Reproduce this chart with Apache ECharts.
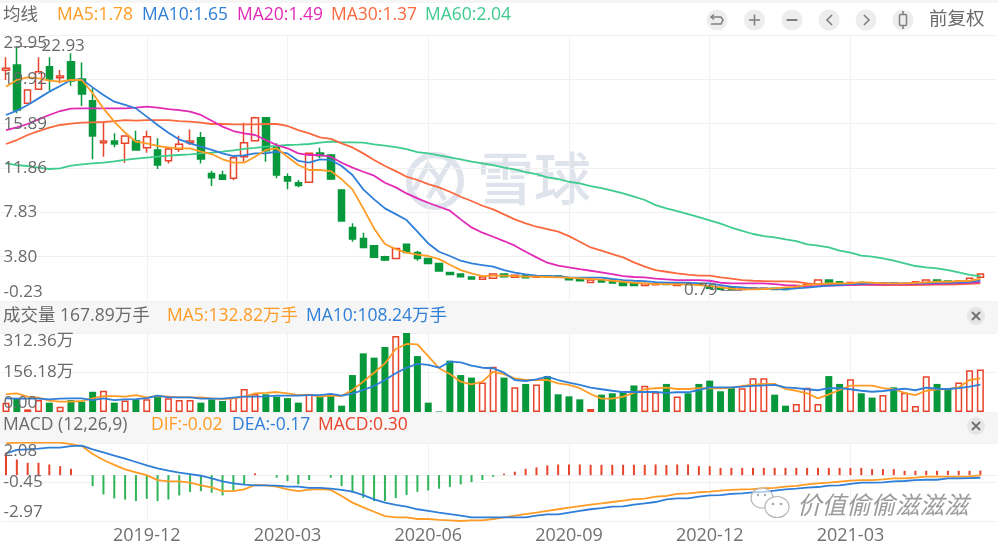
<!DOCTYPE html>
<html><head><meta charset="utf-8">
<script src="https://cdn.jsdelivr.net/npm/echarts@6/dist/echarts.min.js"></script>
<style>html,body{margin:0;padding:0;background:#fff}#c{width:1000px;height:548px}</style></head>
<body><div id="c"></div>
<script>
const tickMonths = ['2019-12','2020-03','2020-06','2020-09','2020-12','2021-03'];
const tickStep = 13;
const priceTicks = [-0.23,3.80,7.83,11.86,15.89,19.92,23.95];
const volTicks = [0,156.18,312.36];
const macdTicks = [-2.97,-0.45,2.08];

const opens = [
20.74,21.22,17.74,19.01,21.07,20.07,21.52,19.95,17.98,14.16,
14.31,14.10,14.31,13.71,13.50,12.52,13.56,14.16,14.62,11.37,
11.22,10.92,12.89,14.34,16.43,13.80,11.07,10.52,10.56,13.22,
13.04,9.86,6.46,5.46,4.80,3.80,3.64,4.92,4.19,3.64,
3.19,2.37,2.22,1.95,1.74,1.83,2.22,1.92,2.07,1.92,
2.07,2.04,1.89,1.83,1.46,1.71,1.67,1.43,1.43,1.19,
1.25,1.36,1.19,1.37,1.37,1.13,1.01,0.98,0.82,0.83,
0.83,0.93,0.92,1.01,1.07,1.31,1.67,1.52,1.37,1.46,
1.37,1.31,1.40,1.31,1.37,1.46,1.67,1.58,1.37,1.61,
1.92];
const closes = [
20.92,17.13,18.95,20.62,19.95,20.22,19.77,18.59,14.77,14.31,
14.04,14.77,13.50,14.71,12.13,13.59,14.01,14.31,12.68,10.98,
10.83,12.80,14.16,16.43,13.43,11.22,10.68,10.28,13.19,12.98,
10.86,7.04,5.40,4.64,3.74,3.49,4.55,4.19,3.64,3.19,
2.49,2.19,1.98,1.77,1.95,2.22,1.98,2.10,1.89,2.07,
1.92,1.92,1.71,1.61,1.67,1.49,1.40,1.19,1.19,1.37,
1.33,1.28,1.37,1.28,1.22,0.92,0.83,0.81,0.98,0.95,
0.92,0.82,0.82,1.19,1.28,1.67,1.37,1.37,1.46,1.31,
1.31,1.40,1.31,1.37,1.52,1.67,1.46,1.43,1.58,1.83,
2.22];
const lows = [
19.86,16.83,17.70,18.95,18.89,19.56,19.34,17.49,12.65,12.89,
13.74,12.34,13.50,13.25,11.77,12.28,13.31,13.95,12.28,10.22,
10.77,10.77,12.43,14.34,12.43,10.92,9.92,10.10,10.53,12.74,
10.77,7.04,5.16,4.64,3.74,3.40,3.60,4.13,3.43,3.15,
2.46,2.15,1.93,1.72,1.70,1.80,1.92,1.88,1.85,1.88,
1.88,1.88,1.68,1.58,1.43,1.46,1.37,1.16,1.16,1.16,
1.22,1.25,1.16,1.25,1.19,0.89,0.80,0.80,0.79,0.80,
0.80,0.80,0.80,0.98,1.04,1.28,1.34,1.34,1.34,1.28,
1.28,1.28,1.28,1.28,1.34,1.43,1.43,1.40,1.34,1.58,
1.89];
const highs = [
21.92,22.93,19.00,21.92,21.92,20.77,22.28,21.46,19.10,15.98,
15.01,14.77,15.25,15.25,14.56,13.80,14.80,15.37,15.13,11.62,
11.62,12.89,15.98,16.52,16.43,14.10,11.37,10.77,13.25,13.71,
13.13,9.86,6.83,5.98,4.86,3.88,4.60,5.00,4.34,3.70,
3.22,2.40,2.28,2.00,1.98,2.25,2.27,2.14,2.10,2.12,
2.10,2.06,1.93,1.86,1.70,1.74,1.70,1.46,1.46,1.40,
1.36,1.40,1.40,1.40,1.40,1.16,1.04,1.01,1.01,0.98,
0.95,0.96,0.95,1.22,1.31,1.70,1.70,1.55,1.49,1.49,
1.40,1.43,1.43,1.40,1.55,1.70,1.70,1.61,1.61,1.86,
2.28];
const ma5 = [
19.25,19.86,20.10,20.01,19.80,19.71,19.86,19.86,18.65,17.28,
16.07,15.07,14.25,14.10,13.86,13.74,13.65,13.65,13.34,13.13,
12.65,12.34,12.34,12.89,13.50,13.65,12.89,12.13,11.68,11.68,
11.58,10.83,9.92,8.19,6.37,4.95,4.49,4.16,3.98,3.86,
3.58,3.07,2.58,2.28,2.04,2.07,2.07,2.04,1.98,1.98,
1.95,1.92,1.89,1.83,1.77,1.71,1.61,1.52,1.43,1.37,
1.31,1.31,1.28,1.28,1.22,1.13,1.01,0.89,0.83,0.83,
0.86,0.92,1.01,1.07,1.22,1.31,1.37,1.37,1.37,1.49,
1.43,1.37,1.37,1.37,1.43,1.46,1.52,1.52,1.58,1.61,
1.78];
const ma10 = [
16.68,17.07,17.59,18.19,18.80,19.31,19.86,19.92,19.19,18.49,
17.89,17.59,17.28,16.53,15.77,15.07,14.46,14.10,13.80,13.50,
13.19,12.95,13.01,13.19,13.19,13.34,13.19,12.50,12.34,12.65,
12.59,12.04,11.22,9.92,9.01,8.19,7.67,7.13,6.07,5.00,
4.25,3.86,3.43,3.19,3.04,2.89,2.58,2.34,2.19,2.07,
2.04,2.04,1.92,1.89,1.89,1.89,1.77,1.67,1.61,1.58,
1.49,1.43,1.43,1.43,1.37,1.37,1.22,1.07,1.01,0.92,
0.92,0.86,0.83,0.92,0.98,1.07,1.16,1.22,1.31,1.34,
1.37,1.37,1.37,1.37,1.37,1.40,1.43,1.43,1.46,1.49,
1.65];
const ma20 = [
15.31,15.56,15.86,16.28,16.68,17.04,17.25,17.28,17.28,17.28,
17.28,17.28,17.34,17.43,17.34,17.22,17.13,16.98,16.68,16.16,
15.62,15.22,15.01,14.86,14.40,13.95,13.65,13.19,13.04,13.04,
12.89,12.34,11.89,11.52,11.16,10.52,10.10,9.55,9.10,8.70,
8.34,7.98,7.19,6.46,5.98,5.61,5.22,4.80,4.25,3.74,
3.25,2.98,2.83,2.67,2.52,2.37,2.22,2.04,1.95,1.92,
1.80,1.74,1.67,1.67,1.67,1.61,1.43,1.37,1.37,1.37,
1.37,1.31,1.22,1.16,1.13,1.13,1.16,1.19,1.22,1.25,
1.26,1.27,1.28,1.28,1.30,1.32,1.34,1.36,1.39,1.43,
1.49];
const ma30 = [
14.04,14.40,14.86,15.22,15.53,15.77,15.89,15.98,16.01,16.04,
16.13,16.22,16.16,16.22,16.22,16.22,16.13,16.07,15.98,15.86,
15.86,15.83,15.83,15.83,15.86,15.86,15.68,15.31,15.01,14.65,
14.50,14.10,13.73,13.19,12.58,12.04,11.58,11.07,10.77,10.40,
10.10,9.70,9.25,8.86,8.43,8.10,7.64,7.19,6.83,6.52,
6.31,6.07,5.67,5.16,4.64,4.34,4.04,3.74,3.28,2.89,
2.58,2.43,2.28,2.16,2.07,2.07,1.92,1.80,1.67,1.61,
1.58,1.55,1.55,1.52,1.37,1.28,1.25,1.24,1.24,1.23,
1.23,1.22,1.22,1.22,1.22,1.23,1.25,1.27,1.29,1.33,
1.37];
const ma60 = [
12.28,12.13,12.04,11.89,11.77,11.83,12.07,12.19,12.28,12.34,
12.46,12.59,12.71,12.80,12.89,12.98,13.04,13.10,13.19,13.25,
13.34,13.46,13.59,13.68,13.80,13.86,13.95,13.98,14.04,14.16,
14.25,14.19,14.19,14.16,14.01,13.89,13.76,13.58,13.31,13.19,
13.01,12.83,12.64,12.43,12.28,12.13,11.89,11.73,11.49,11.31,
11.01,10.86,10.61,10.46,10.22,10.04,9.80,9.55,9.25,8.95,
8.49,8.19,7.93,7.67,7.40,7.10,6.80,6.45,6.15,5.86,
5.67,5.55,5.37,5.22,4.92,4.80,4.64,4.34,4.16,3.89,
3.80,3.65,3.43,3.19,2.95,2.83,2.74,2.58,2.37,2.14,
2.04];
const volumes = [
37,54,10.5,47,37,21,47,41,80,84,
37,45,49,50,67,54,47,47,37,50,
43.5,59,91,71,70,61,55,37,71,61,
65,25,146,232,215,257,300.5,312.36,221,37,
2,203,146,136,117,179,136,97.5,111,109,
142,70,62,50,12,68.5,74,79,105,104,
78,111,61,74,111,124,82,97.5,93.6,133,
133,68.5,25,32,96,32,142,111,129,74,
57,67,97.5,76,24,141,111,94,117,165,
167.89];
const volMa5 = [
71,74,61,57,45,41,41,43.5,54,63,
63,61,67,58,63,61,58,58,58,54,
51,54,61,74,76,79,74,67,68.5,61,
65,63,87,120,155,192,249,269,267.5,221,
173,150,120,109,120,159,150,133,126.5,126.5,
126.5,113,107,94,71,53,53,61,76,90,
94,96,91,91,94,94,94,95,103,108,
111,111,91,84,74,54,70,87,104,104,
104,94,90,76,67,84,90,90,97.5,126.5,
132.82];
const volMa10 = [
54,53,53,53,50,53,54,54,47,54,
47,50,51,55,65,58,58,58,53,53,
53,57,61,61,62,65,65,65,67,67,
72,65,72.5,87,103,126.5,153,175,190,186,
175,199,196,183,175,173,155.5,126.5,122.6,129,
140,126.5,116,107,96,90,84,79,79,79,
79,76,78,78,87,97.5,97.5,97.5,100,103,
105,107,97.5,94,90,86,94,94,90,84,
80,83,88,92,86,96,92,91,94,100,
108.24];
const dif = [
2.06,2.10,2.10,2.10,2.10,2.10,2.01,1.88,1.37,0.98,
0.66,0.37,0.18,0.00,-0.32,-0.40,-0.40,-0.49,-0.66,-0.79,
-1.03,-1.03,-0.92,-0.64,-0.66,-0.75,-0.92,-1.03,-0.94,-0.90,
-0.96,-1.35,-1.78,-2.09,-2.37,-2.65,-2.73,-2.73,-2.84,-2.84,
-2.90,-2.93,-2.97,-2.93,-2.93,-2.84,-2.73,-2.62,-2.52,-2.43,
-2.32,-2.21,-2.11,-2.00,-1.91,-1.83,-1.74,-1.65,-1.55,-1.52,
-1.39,-1.35,-1.22,-1.18,-1.11,-1.07,-1.01,-0.96,-0.92,-0.90,
-0.85,-0.83,-0.75,-0.70,-0.60,-0.53,-0.49,-0.42,-0.36,-0.32,
-0.32,-0.27,-0.21,-0.21,-0.16,-0.10,-0.10,-0.10,-0.10,-0.08,
-0.02];
const dea = [
1.41,1.63,1.67,1.71,1.78,1.78,1.88,1.91,1.67,1.48,
1.26,1.07,0.85,0.63,0.44,0.29,0.16,0.07,-0.04,-0.21,
-0.40,-0.53,-0.62,-0.66,-0.66,-0.68,-0.75,-0.75,-0.83,-0.83,
-0.88,-0.96,-1.07,-1.29,-1.57,-1.78,-1.93,-2.04,-2.21,-2.32,
-2.43,-2.52,-2.62,-2.73,-2.73,-2.73,-2.73,-2.73,-2.73,-2.62,
-2.54,-2.54,-2.43,-2.32,-2.21,-2.13,-2.04,-2.02,-1.91,-1.83,
-1.74,-1.57,-1.50,-1.50,-1.39,-1.31,-1.29,-1.22,-1.18,-1.11,
-1.09,-1.01,-0.92,-0.88,-0.81,-0.77,-0.68,-0.66,-0.57,-0.49,
-0.49,-0.47,-0.40,-0.38,-0.32,-0.30,-0.30,-0.21,-0.21,-0.19,
-0.17];
const macd = [
1.45,1.01,0.80,0.80,0.69,0.58,0.41,0,-0.71,-1.25,
-1.51,-1.58,-1.68,-1.53,-1.68,-1.58,-1.32,-1.10,-1.04,-1.14,
-1.32,-0.97,-0.60,0.11,0,-0.17,-0.39,-0.60,-0.32,0,
-0.17,-0.71,-1.14,-1.47,-1.68,-1.68,-1.49,-1.29,-1.08,-0.99,
-0.88,-0.76,-0.60,-0.45,-0.32,-0.11,0.09,0.22,0.41,0.50,
0.63,0.69,0.69,0.69,0.67,0.67,0.67,0.67,0.67,0.67,
0.69,0.65,0.69,0.69,0.58,0.58,0.47,0.47,0.47,0.47,
0.47,0.47,0.47,0.47,0.47,0.47,0.47,0.47,0.47,0.47,
0.39,0.39,0.39,0.28,0.28,0.28,0.28,0.28,0.28,0.28,
0.30];

const RED='#e8432b', GREEN='#07983c', C5='#ff9c26', C10='#2f7fd9', C20='#e22ab6', C30='#fb693f', C60='#3ecb8e', TXT='#6a6a6a';
const FONT='"Open Sans","Noto Sans CJK SC",sans-serif';
const N=opens.length+1;
const categories=Array.from({length:N},(_,i)=> (i%tickStep===0&&tickMonths[i/tickStep-1])||String(i));
const showTick=i=>i>0&&i%tickStep===0&&i/tickStep<=tickMonths.length;
const candle=opens.map((o,i)=>[o,closes[i],lows[i],highs[i]]);
const lineS=(name,data,color,x,w)=>({name,type:'line',data,xAxisIndex:x,yAxisIndex:x,symbol:'none',lineStyle:{color,width:w||1.8},itemStyle:{color},silent:true,animation:false,z:4});
const volData=volumes.map((v,i)=>{const up=closes[i]>=opens[i];return {value:v,itemStyle:up?{color:'#fff',borderColor:RED,borderWidth:1.5}:{color:GREEN,borderColor:GREEN,borderWidth:0}}});
const macdData=macd.map(v=>({value:v,itemStyle:{color:v>=0?RED:'#2fb457'}}));
const LINE='#f1f1f1';
const xA=(g,label)=>({type:'category',gridIndex:g,data:categories,boundaryGap:true,
  axisLine:{show:g===2,lineStyle:{color:'#f1f1f1'}},axisTick:{show:false},
  axisLabel:{show:label,interval:(i)=>showTick(i),color:'#707070',fontFamily:FONT,fontSize:18,margin:6,hideOverlap:false},
  splitLine:{show:true,interval:(i)=>showTick(i),alignWithLabel:true,lineStyle:{color:LINE,width:1}}});
// grid lines sit under the marks, value labels sit over them, as in the reference
const yGrid=(g,min,max,ticks)=>({type:'value',gridIndex:g,position:'left',min,max,scale:true,
  axisLine:{show:false},axisTick:{show:false,customValues:ticks},axisLabel:{show:false},
  splitLine:{show:true,lineStyle:{color:LINE,width:1}}});
const yLabel=(g,min,max,ticks,fmt)=>({type:'value',gridIndex:g,position:'left',offset:0,min,max,scale:true,z:10,
  axisLine:{show:false,onZero:false},axisTick:{show:false,customValues:ticks},splitLine:{show:false},
  axisLabel:{inside:true,margin:3,customValues:ticks,formatter:fmt,color:TXT,fontFamily:FONT,fontSize:17,
    verticalAlignMinLabel:'bottom',verticalAlignMaxLabel:'top'}});
const legendTop=[['均线',3,TXT],['MA5:1.78',57,C5],['MA10:1.65',142,C10],['MA20:1.49',237,C20],['MA30:1.37',331,C30],['MA60:2.04',425,C60]];
const legendVol=[['成交量 167.89万手',3,TXT],['MA5:132.82万手',167,C5],['MA10:108.24万手',306,C10]];
const legendMacd=[['MACD (12,26,9)',3,TXT],['DIF:-0.02',151,C5],['DEA:-0.17',232,C10],['MACD:0.30',318,RED]];
const rect=(x,y,w,h,fill)=>({type:'rect',shape:{x,y,width:w,height:h},style:{fill},z:-1,silent:true});
const circ=(cx,cy,r,fill)=>({type:'circle',shape:{cx,cy,r},style:{fill},z:40,silent:true});
const ln=(x1,y1,x2,y2,col,w)=>({type:'line',shape:{x1,y1,x2,y2},style:{stroke:col||'#808080',lineWidth:w||1.6},z:41,silent:true});
const poly=(points,col,w)=>({type:'polyline',shape:{points},style:{stroke:col||'#808080',lineWidth:w||1.6,fill:null},z:41,silent:true});
const legText=(a,y)=>({type:'text',x:a[1],y,z:50,silent:true,style:{text:a[0],fill:a[2],font:'17.5px '+FONT,verticalAlign:'middle'}});
const gfx=[
  rect(0,0,998,3,'#f5f5f5'),rect(0,302,998,31,'#f6f6f6'),rect(0,412,998,31,'#f6f6f6'),
  ...legendTop.map(a=>legText(a,15)),
  ...legendVol.map(a=>legText(a,316)),
  ...legendMacd.map(a=>legText(a,425)),
  {type:'text',x:929,y:20,z:50,silent:true,style:{text:'前复权',fill:TXT,font:'18.5px '+FONT,verticalAlign:'middle'}},
  ...[717,754.5,792,829,866,903].map(x=>circ(x,20,10.5,'#ededed')),
  poly([[712,17],[721,17],[723,20],[721,24],[711,24]]),poly([[714,14.5],[711,17],[714,19.5]]),
  ln(749,20,760,20),ln(754.5,14.5,754.5,25.5),ln(786.5,20,797.5,20,'#808080',2),
  poly([[832,15],[827,20],[832,25]]),poly([[864,15],[869,20],[864,25]]),
  {type:'rect',shape:{x:899.5,y:14.5,width:7,height:11,r:1},style:{fill:'#ededed',stroke:'#808080',lineWidth:1.5},z:41,silent:true},
  ln(903,11,903,14.5),ln(903,25.5,903,29),
  circ(976,316,9,'#e6e6e6'),ln(972,312,980,320,'#6f6f6f',1.8),ln(980,312,972,320,'#6f6f6f',1.8),
  circ(976,426,9,'#e6e6e6'),ln(972,422,980,430,'#6f6f6f',1.8),ln(980,422,972,430,'#6f6f6f',1.8),
  // 雪球 watermark
  {type:'circle',shape:{cx:435,cy:181,r:26},style:{fill:null,stroke:'#dfe4ec',lineWidth:6},z:-1,silent:true},
  {type:'polyline',shape:{points:[[414,190],[428,165],[440,180],[428,198]]},style:{stroke:'#dfe4ec',lineWidth:5,fill:null},z:-1,silent:true},
  {type:'polyline',shape:{points:[[450,162],[436,185],[445,200]]},style:{stroke:'#dfe4ec',lineWidth:5,fill:null},z:-1,silent:true},
  {type:'text',x:477,y:178,z:-1,silent:true,style:{text:'雪球',fill:'#dfe4ec',font:'500 57px "Noto Sans CJK SC"',verticalAlign:'middle'}},
  // WeChat watermark
  {type:'ellipse',shape:{cx:762,cy:498,rx:11,ry:10},style:{fill:'rgba(255,255,255,0.6)',stroke:'#b8b8b8',lineWidth:1.2},z:45,silent:true},
  {type:'ellipse',shape:{cx:777,cy:507,rx:12,ry:10.5},style:{fill:'rgba(255,255,255,0.9)',stroke:'#b8b8b8',lineWidth:1.2},z:45,silent:true},
  circ(773,504,1.3,'#aaa'),circ(781,504,1.3,'#aaa'),circ(758,495,1.2,'#aaa'),circ(765,495,1.2,'#aaa'),
  {type:'text',x:797,y:505,z:50,silent:true,style:{text:'价值偷偷滋滋滋',fill:'#9b9b9b',stroke:'#fff',lineWidth:1,font:'italic 24.5px "Noto Sans CJK SC"',verticalAlign:'middle'}},
];
gfx.filter(g=>g.type==='circle'&&g.z===40&&g.shape.cy>400&&g.shape.r<2).forEach(g=>{g.z=46;});
const grayLabel={show:true,color:TXT,fontFamily:FONT,fontSize:17};
const option={
  animation:false,backgroundColor:'#fff',
  textStyle:{fontFamily:FONT},
  grid:[
    {left:0.6,width:996,top:35,height:266},
    {left:0.6,width:996,top:333,height:79},
    {left:0.6,width:996,top:443,height:78}],
  xAxis:[xA(0,false),xA(1,false),xA(2,true)],
  yAxis:[
    yGrid(0,priceTicks[0],priceTicks[6],priceTicks),
    yGrid(1,volTicks[0],volTicks[2],volTicks),
    yGrid(2,macdTicks[0],macdTicks[2],macdTicks),
    yLabel(0,priceTicks[0],priceTicks[6],priceTicks,v=>v.toFixed(2)),
    yLabel(1,volTicks[0],volTicks[2],volTicks,v=>v===0?'0.00':v.toFixed(2)+'万'),
    yLabel(2,macdTicks[0],macdTicks[2],macdTicks,v=>v.toFixed(2))],
  graphic:{elements:gfx},
  series:[
    {type:'candlestick',name:'K',data:candle,xAxisIndex:0,yAxisIndex:0,barWidth:7,clip:false,z:3,silent:true,
     itemStyle:{color:'#fff',color0:GREEN,borderColor:RED,borderColor0:GREEN,borderWidth:1.5},
     markPoint:{symbol:'circle',symbolSize:0,silent:true,animation:false,data:[
        {coord:[3,22.93],value:22.93,label:Object.assign({position:'right',distance:3,formatter:'22.93'},grayLabel)},
        {coord:[66,0.79],value:0.79,label:Object.assign({position:'left',distance:3,formatter:'0.79'},grayLabel)}]},
     markLine:{symbol:'none',silent:true,animation:false,label:{show:false},lineStyle:{color:'#8a8a8a',type:'solid',width:1},data:[
        [{coord:[1,22.93]},{coord:[3,22.93]}],[{coord:[66,0.79]},{coord:[68,0.79]}]]}},
    lineS('MA60',ma60,C60,0),lineS('MA30',ma30,C30,0),lineS('MA20',ma20,C20,0),lineS('MA10',ma10,C10,0),lineS('MA5',ma5,C5,0),
    {type:'bar',name:'成交量',data:volData,xAxisIndex:1,yAxisIndex:1,barWidth:7,silent:true,z:3},
    lineS('VMA5',volMa5,C5,1),lineS('VMA10',volMa10,C10,1),
    {type:'bar',name:'MACD',data:macdData,xAxisIndex:2,yAxisIndex:2,barWidth:2,silent:true,z:3},
    lineS('DIF',dif,C5,2),lineS('DEA',dea,C10,2)
  ]
};
const chart=echarts.init(document.getElementById('c'),null,{renderer:'canvas'});
chart.setOption(option);
</script></body></html>
